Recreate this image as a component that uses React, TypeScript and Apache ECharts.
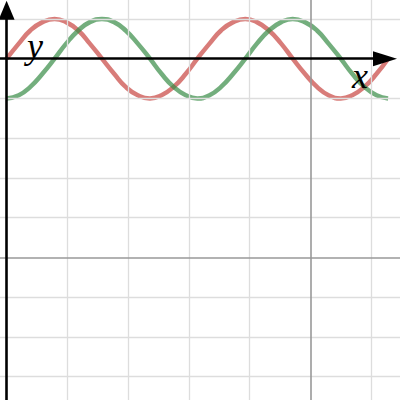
import React, { useEffect, useRef } from "react";
import * as echarts from "echarts";

const xs = [0, 0.2, 0.39, 0.59, 0.79, 0.98, 1.18, 1.37, 1.57, 1.77, 1.96, 2.16, 2.36, 2.55, 2.75, 2.95, 3.14, 3.34, 3.53, 3.73, 3.93, 4.12, 4.32, 4.52, 4.71, 4.91, 5.11, 5.3, 5.5, 5.69, 5.89, 6.09, 6.28];
const redY = [0, 0.38, 0.71, 0.92, 1, 0.92, 0.71, 0.38, 0, -0.38, -0.71, -0.92, -1, -0.92, -0.71, -0.38, 0, 0.38, 0.71, 0.92, 1, 0.92, 0.71, 0.38, 0, -0.38, -0.71, -0.92, -1, -0.92, -0.71, -0.38, 0];
const greenY = [-1, -0.92, -0.71, -0.38, 0, 0.38, 0.71, 0.92, 1, 0.92, 0.71, 0.38, 0, -0.38, -0.71, -0.92, -1, -0.92, -0.71, -0.38, 0, 0.38, 0.71, 0.92, 1, 0.92, 0.71, 0.38, 0, -0.38, -0.71, -0.92, -1];

const minorX = [1, 2, 3, 4, 6];
const majorX = [5];
const minorY = [1, -1, -2, -3, -4, -6, -7, -8];
const majorY = [-5];

const XMIN = -0.1086;
const XMAX = 6.476;
const YMIN = -8.586;
const YMAX = 1.477;

export default function App() {
  const ref = useRef<HTMLDivElement>(null);
  useEffect(() => {
    document.body.style.margin = "0";
    const chart = echarts.init(ref.current!, undefined, { renderer: "svg" });
    const minorStyle = { color: "#dddddd", width: 1.3, type: "solid" as const };
    const majorStyle = { color: "#999999", width: 1.6, type: "solid" as const };
    chart.setOption({
      animation: false,
      grid: { left: 0, right: 0, top: 0, bottom: 0 },
      xAxis: { type: "value", min: XMIN, max: XMAX, show: false },
      yAxis: { type: "value", min: YMIN, max: YMAX, show: false },
      graphic: [
        { type: "text", left: 27, top: 28, style: { text: "y", font: 'italic 36px "Liberation Serif"', fill: "#000" }, z: 50 },
        { type: "text", left: 352, top: 58, style: { text: "x", font: 'italic 36px "Liberation Serif"', fill: "#000" }, z: 50 },
      ],
      series: [
        {
          type: "line",
          data: [],
          silent: true,
          z: 1,
          markLine: {
            silent: true,
            symbol: ["none", "none"],
            label: { show: false },
            emphasis: { disabled: true },
            data: [
              ...minorX.map((v) => ({ xAxis: v, lineStyle: minorStyle })),
              ...minorY.map((v) => ({ yAxis: v, lineStyle: minorStyle })),
              ...majorX.map((v) => ({ xAxis: v, lineStyle: majorStyle })),
              ...majorY.map((v) => ({ yAxis: v, lineStyle: majorStyle })),
            ],
          },
        },
        {
          type: "line",
          data: [],
          silent: true,
          z: 2,
          markLine: {
            silent: true,
            label: { show: false },
            emphasis: { disabled: true },
            lineStyle: { color: "#000", width: 2.6, type: "solid" },
            data: [
              [
                { coord: [XMIN, 0], symbol: "none" },
                { coord: [6.229, 0], symbol: "triangle", symbolSize: [15, 24] },
              ],
              [
                { coord: [0, YMIN], symbol: "none" },
                { coord: [0, 1.22], symbol: "triangle", symbolSize: [16, 19] },
              ],
            ],
          },
        },
        {
          type: "line",
          z: 3,
          smooth: true,
          showSymbol: false,
          silent: true,
          lineStyle: { color: "rgba(199,68,64,0.7)", width: 4.5 },
          data: xs.map((x, i) => [x, redY[i]]),
        },
        {
          type: "line",
          z: 3,
          smooth: true,
          showSymbol: false,
          silent: true,
          lineStyle: { color: "rgba(56,140,70,0.7)", width: 4.5 },
          data: xs.map((x, i) => [x, greenY[i]]),
        },
      ],
    });
    return () => chart.dispose();
  }, []);
  return <div ref={ref} style={{ width: 400, height: 400 }} />;
}
